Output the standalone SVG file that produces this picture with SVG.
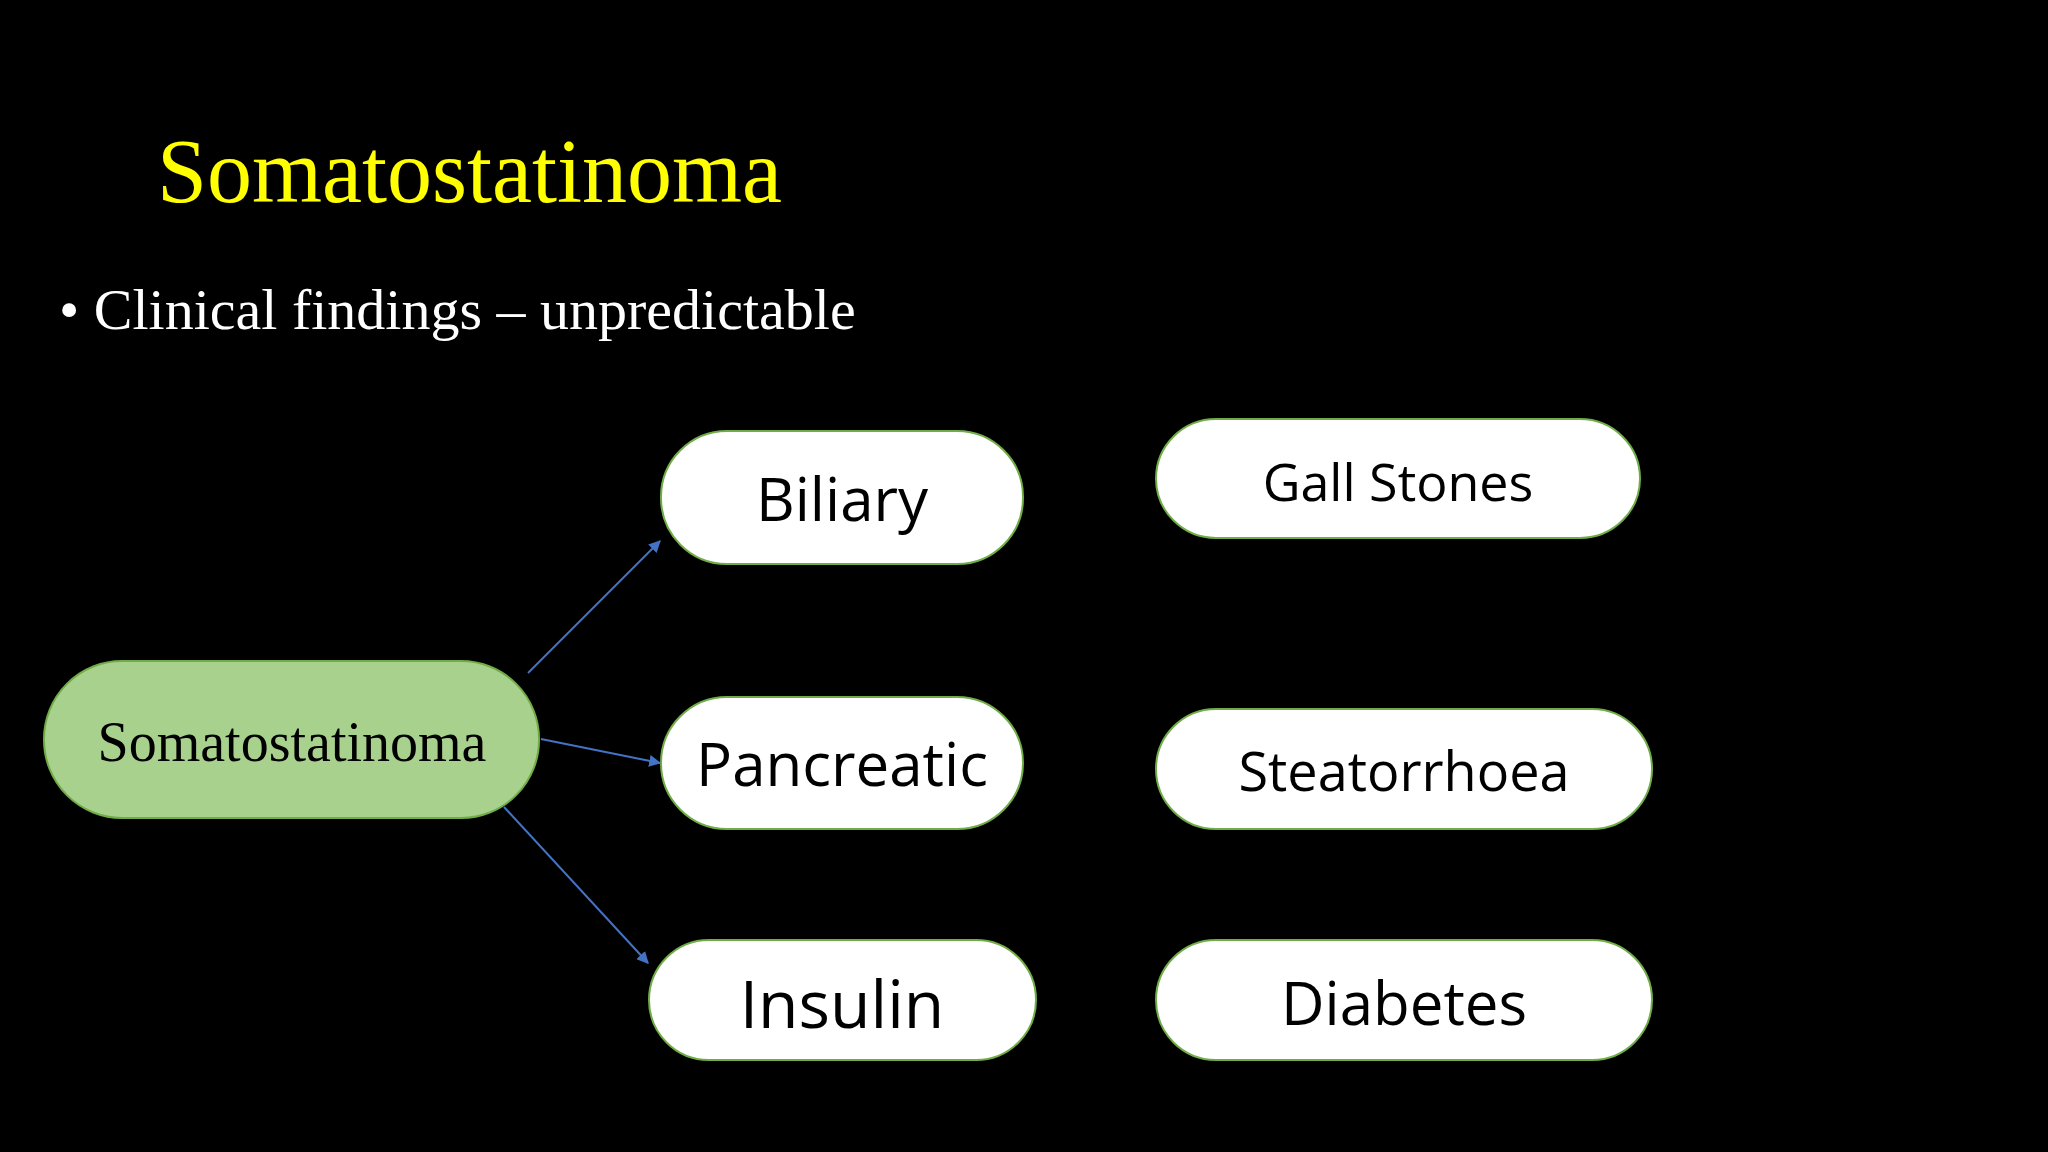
<svg xmlns="http://www.w3.org/2000/svg" width="2048" height="1152" viewBox="0 0 2048 1152">
<defs>
<style>
.box{fill:#fff;stroke:#70ad47;stroke-width:2}
.t{font-family:"Open Sans","Liberation Sans",sans-serif;fill:#000;text-anchor:middle;dominant-baseline:central}
.c{stroke:#4472c4;stroke-width:2;fill:none;marker-end:url(#a)}
</style>
<marker id="a" viewBox="0 0 10 10" refX="9" refY="5" markerWidth="6" markerHeight="6" orient="auto"><path d="M0,0 L10,5 L0,10 z" fill="#4472c4"/></marker>
</defs>
<rect width="2048" height="1152" fill="#000"/>
<text x="157" y="202" font-family="Liberation Serif,serif" font-size="90" fill="#ffff00">Somatostatinoma</text>
<text x="59" y="329" font-family="Liberation Serif,serif" font-size="58" fill="#fff">• Clinical findings – unpredictable</text>
<g id="n0"><rect x="44" y="661" width="495" height="157" rx="78" fill="#a9d18e" stroke="#70ad47" stroke-width="2"/><text x="292" y="742" font-family="Liberation Serif,serif" font-size="56" text-anchor="middle" dominant-baseline="central">Somatostatinoma</text></g>
<g id="n1"><rect class="box" x="661" y="431" width="362" height="133" rx="66"/><text class="t" x="842" y="498" font-size="60">Biliary</text></g>
<g id="n2"><rect class="box" x="661" y="697" width="362" height="132" rx="66"/><text class="t" x="842" y="763" font-size="60">Pancreatic</text></g>
<g id="n3"><rect class="box" x="649" y="940" width="387" height="120" rx="60"/><text class="t" x="842" y="1002" font-size="66">Insulin</text></g>
<g id="n4"><rect class="box" x="1156" y="419" width="484" height="119" rx="60"/><text class="t" x="1398" y="480" font-size="52">Gall Stones</text></g>
<g id="n5"><rect class="box" x="1156" y="709" width="496" height="120" rx="60"/><text class="t" x="1404" y="770" font-size="54">Steatorrhoea</text></g>
<g id="n6"><rect class="box" x="1156" y="940" width="496" height="120" rx="60"/><text class="t" x="1404" y="1002" font-size="60">Diabetes</text></g>
<g id="connectors">
<line class="c" x1="528" y1="673" x2="660" y2="541"/>
<line class="c" x1="541" y1="739" x2="660" y2="763"/>
<line class="c" x1="504" y1="807" x2="648" y2="963"/>
</g>
</svg>
